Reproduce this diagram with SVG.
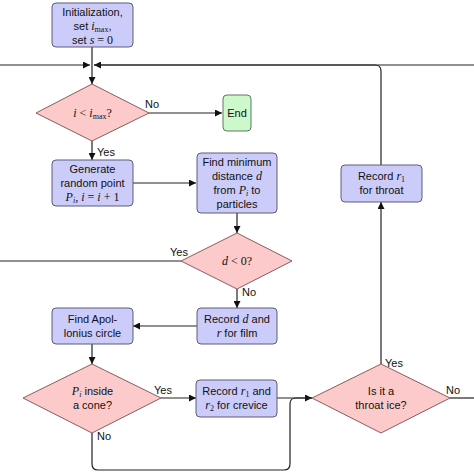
<svg xmlns="http://www.w3.org/2000/svg" width="474" height="474" viewBox="0 0 474 474">
<defs>
<style>
.box{fill:#ccccfa;stroke:#5c5c7a;stroke-width:1}
.dia{fill:#fccaca;stroke:#8a5c5c;stroke-width:1}
.end{fill:#ccf8cc;stroke:#5c7a5c;stroke-width:1}
.t{font-family:"Liberation Sans",Arial,sans-serif;font-size:11px;fill:#111;text-anchor:middle}
.m{font-family:"Liberation Serif","Times New Roman",serif;font-style:italic;font-size:12px}
.r{font-family:"Liberation Serif","Times New Roman",serif;font-style:normal;font-size:12px}
.s{font-size:8px}
.lab{font-family:"Liberation Sans",Arial,sans-serif;font-size:11px;fill:#111}
.c{fill:none;stroke:#222;stroke-width:1.2}
</style>
<marker id="ah" viewBox="0 0 10 10" refX="10" refY="5" markerWidth="7" markerHeight="7" markerUnits="userSpaceOnUse" orient="auto">
<path d="M0,0 L10,5 L0,10 z" fill="#111"/>
</marker>
</defs>

<g id="connectors">
<path class="c" d="M0,65 H90" marker-end="url(#ah)"/>
<path class="c" d="M474,65 H94" marker-end="url(#ah)"/>
<path class="c" d="M381,165 V71 Q381,65 375,65 H94"/>
<path class="c" d="M92,47 V84" marker-end="url(#ah)"/>
<path class="c" d="M149,113 H222" marker-end="url(#ah)"/>
<path class="c" d="M92,141 V160" marker-end="url(#ah)"/>
<path class="c" d="M133,183 H196" marker-end="url(#ah)"/>
<path class="c" d="M237,213 V233" marker-end="url(#ah)"/>
<path class="c" d="M181,261 H0"/>
<path class="c" d="M237,289 V308" marker-end="url(#ah)"/>
<path class="c" d="M197,326 H133" marker-end="url(#ah)"/>
<path class="c" d="M92,344 V364" marker-end="url(#ah)"/>
<path class="c" d="M161,398 H196" marker-end="url(#ah)"/>
<path class="c" d="M277,398 H312" marker-end="url(#ah)"/>
<path class="c" d="M92,433 V464 Q92,470 98,470 H284 Q290,470 290,464 V404 Q290,398 296,398 H312"/>
<path class="c" d="M381,364 V202" marker-end="url(#ah)"/>
<path class="c" d="M450,398 H474"/>
<text class="lab" x="145" y="108">No</text>
<text class="lab" x="97" y="156">Yes</text>
<text class="lab" x="170" y="256">Yes</text>
<text class="lab" x="242" y="296">No</text>
<text class="lab" x="154" y="394">Yes</text>
<text class="lab" x="97" y="440">No</text>
<text class="lab" x="385" y="367">Yes</text>
<text class="lab" x="446" y="394">No</text>
</g>

<g id="init">
<rect class="box" x="52" y="3" width="81" height="44" rx="4"/>
<text class="t" x="92.5" y="16">Initialization,</text>
<text class="t" x="92.5" y="30">set <tspan class="m">i</tspan><tspan class="r s" dy="2">max</tspan><tspan dy="-2">,</tspan></text>
<text class="t" x="92.5" y="44">set <tspan class="m">s</tspan><tspan class="r"> = 0</tspan></text>
</g>

<g id="cond-imax">
<polygon class="dia" points="92,84 149,113 92,141 36,113"/>
<text class="t" x="92.5" y="117"><tspan class="m">i</tspan><tspan class="r"> &lt; </tspan><tspan class="m">i</tspan><tspan class="r s" dy="2">max</tspan><tspan class="r" dy="-2">?</tspan></text>
</g>

<g id="end">
<rect class="end" x="223" y="95" width="28" height="36" rx="4"/>
<text class="t" x="237" y="117">End</text>
</g>

<g id="generate">
<rect class="box" x="52" y="160" width="81" height="46" rx="4"/>
<text class="t" x="92.5" y="173">Generate</text>
<text class="t" x="92.5" y="187">random point</text>
<text class="t" x="92.5" y="201"><tspan class="m">P</tspan><tspan class="m s" dy="2">i</tspan><tspan class="r" dy="-2">, </tspan><tspan class="m">i</tspan><tspan class="r"> = </tspan><tspan class="m">i</tspan><tspan class="r"> + 1</tspan></text>
</g>

<g id="findmin">
<rect class="box" x="197" y="153" width="80" height="60" rx="4"/>
<text class="t" x="237" y="166">Find minimum</text>
<text class="t" x="237" y="180">distance <tspan class="m">d</tspan></text>
<text class="t" x="237" y="194">from <tspan class="m">P</tspan><tspan class="m s" dy="2">i</tspan><tspan dy="-2"> to</tspan></text>
<text class="t" x="237" y="208">particles</text>
</g>

<g id="cond-d">
<polygon class="dia" points="237,233 292,261 237,289 181,261"/>
<text class="t" x="237" y="265"><tspan class="m">d</tspan><tspan class="r"> &lt; 0?</tspan></text>
</g>

<g id="record-film">
<rect class="box" x="197" y="308" width="80" height="36" rx="4"/>
<text class="t" x="237" y="323">Record <tspan class="m">d</tspan> and</text>
<text class="t" x="237" y="337"><tspan class="m">r</tspan> for film</text>
</g>

<g id="apollonius">
<rect class="box" x="52" y="308" width="81" height="36" rx="4"/>
<text class="t" x="92.5" y="323">Find Apol-</text>
<text class="t" x="92.5" y="337">lonius circle</text>
</g>

<g id="cond-cone">
<polygon class="dia" points="92,364 161,398 92,433 23,398"/>
<text class="t" x="92.5" y="395"><tspan class="m">P</tspan><tspan class="m s" dy="2">i</tspan><tspan dy="-2"> inside</tspan></text>
<text class="t" x="92.5" y="409">a cone?</text>
</g>

<g id="record-crevice">
<rect class="box" x="196" y="380" width="81" height="37" rx="4"/>
<text class="t" x="236.5" y="395">Record <tspan class="m">r</tspan><tspan class="r s" dy="2">1</tspan><tspan dy="-2"> and</tspan></text>
<text class="t" x="236.5" y="409"><tspan class="m">r</tspan><tspan class="r s" dy="2">2</tspan><tspan dy="-2"> for crevice</tspan></text>
</g>

<g id="cond-throat">
<polygon class="dia" points="381,364 450,398 381,433 312,398"/>
<text class="t" x="381" y="395">Is it a</text>
<text class="t" x="381" y="409">throat ice?</text>
</g>

<g id="record-throat">
<rect class="box" x="341" y="165" width="81" height="37" rx="4"/>
<text class="t" x="381.5" y="180">Record <tspan class="m">r</tspan><tspan class="r s" dy="2">1</tspan></text>
<text class="t" x="381.5" y="194">for throat</text>
</g>
</svg>
